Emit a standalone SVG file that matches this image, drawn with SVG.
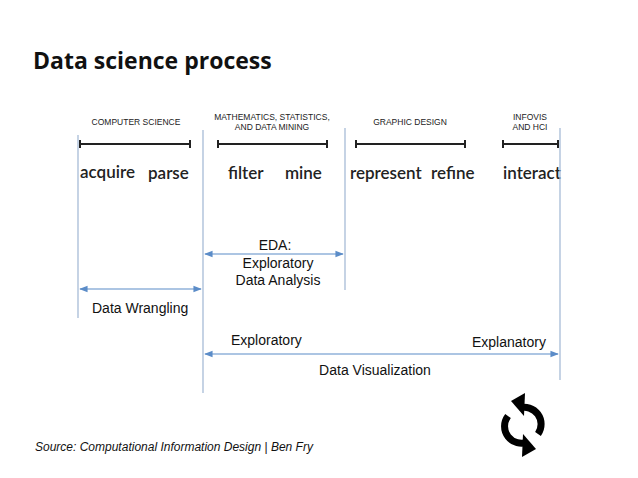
<svg xmlns="http://www.w3.org/2000/svg" width="638" height="478" viewBox="0 0 638 478">
<style>
.h{font-family:"Liberation Sans",Arial,sans-serif;font-size:8.5px;fill:#222}
.w{font-family:"Lato","Open Sans",sans-serif;font-size:17px;font-weight:600;fill:#222}
.l{font-family:"Liberation Sans",Arial,sans-serif;font-size:14px;fill:#111}
.v{stroke:#9fb6d3;stroke-width:1.2}
.bar{stroke:#222;stroke-width:2}
.a{stroke:#5b8cc8;stroke-width:1.2;marker-start:url(#m);marker-end:url(#m)}
</style>
<defs><marker id="m" viewBox="0 0 10 10" refX="9" refY="5" markerWidth="7" markerHeight="7" orient="auto-start-reverse"><path d="M0,1L10,5L0,9z" fill="#5b8cc8"/></marker></defs>
<rect width="638" height="478" fill="#fff"/>
<text x="33" y="69" font-family="'Open Sans','Liberation Sans',sans-serif" font-size="23" font-weight="bold" fill="#111">Data science process</text>
<g id="header">
<text class="h" x="136" y="125" text-anchor="middle">COMPUTER SCIENCE</text>
<text class="h" x="272" y="120" text-anchor="middle">MATHEMATICS, STATISTICS,</text>
<text class="h" x="272" y="130" text-anchor="middle">AND DATA MINING</text>
<text class="h" x="410" y="125" text-anchor="middle">GRAPHIC DESIGN</text>
<text class="h" x="530" y="120" text-anchor="middle">INFOVIS</text>
<text class="h" x="530" y="130" text-anchor="middle">AND HCI</text>
<path class="bar" d="M80,144H190M80,140V148M190,140V148M218,144H327M218,140V148M327,140V148M356,144H465M356,140V148M465,140V148M503,144H558M503,140V148M558,140V148"/>
<text class="w" x="80" y="178">acquire</text><text class="w" x="148" y="179">parse</text>
<text class="w" x="228" y="179">filter</text><text class="w" x="285" y="179">mine</text>
<text class="w" x="350" y="179">represent</text><text class="w" x="431" y="179">refine</text>
<text class="w" x="503" y="179">interact</text>
</g>
<g id="connectors">
<line class="v" x1="78" y1="135" x2="78" y2="318"/>
<line class="v" x1="203" y1="130" x2="203" y2="393"/>
<line class="v" x1="345" y1="128" x2="345" y2="290"/>
<line class="v" x1="560" y1="128" x2="560" y2="380"/>
<line class="a" x1="205" y1="254" x2="343" y2="254"/>
<line class="a" x1="80" y1="289" x2="201" y2="289"/>
<line class="a" x1="205" y1="354" x2="558" y2="354"/>
</g>
<g id="eda"><text class="l" x="275" y="250" text-anchor="middle">EDA:</text><text class="l" x="278" y="268" text-anchor="middle">Exploratory</text><text class="l" x="278" y="285" text-anchor="middle">Data Analysis</text></g>
<g id="wrangling"><text class="l" x="92" y="313">Data Wrangling</text></g>
<g id="exploratory"><text class="l" x="231" y="345">Exploratory</text></g>
<g id="explanatory"><text class="l" x="472" y="347">Explanatory</text></g>
<g id="dataviz"><text class="l" x="375" y="375" text-anchor="middle">Data Visualization</text></g>
<text x="35" y="451" font-family="'Liberation Sans',Arial,sans-serif" font-size="12" font-style="italic" fill="#111">Source: Computational Information Design <tspan font-style="normal">|</tspan> Ben Fry</text>
<g id="icon" fill="none" stroke="#000" stroke-width="7">
<path d="M519,408 A17,17 0 0 1 538,434"/>
<path d="M528,442 A17,17 0 0 1 508,416"/>
<path d="M511,401L525,393L524,416z" fill="#000" stroke="none"/>
<path d="M536,449L522,457L523,434z" fill="#000" stroke="none"/>
</g>
</svg>
